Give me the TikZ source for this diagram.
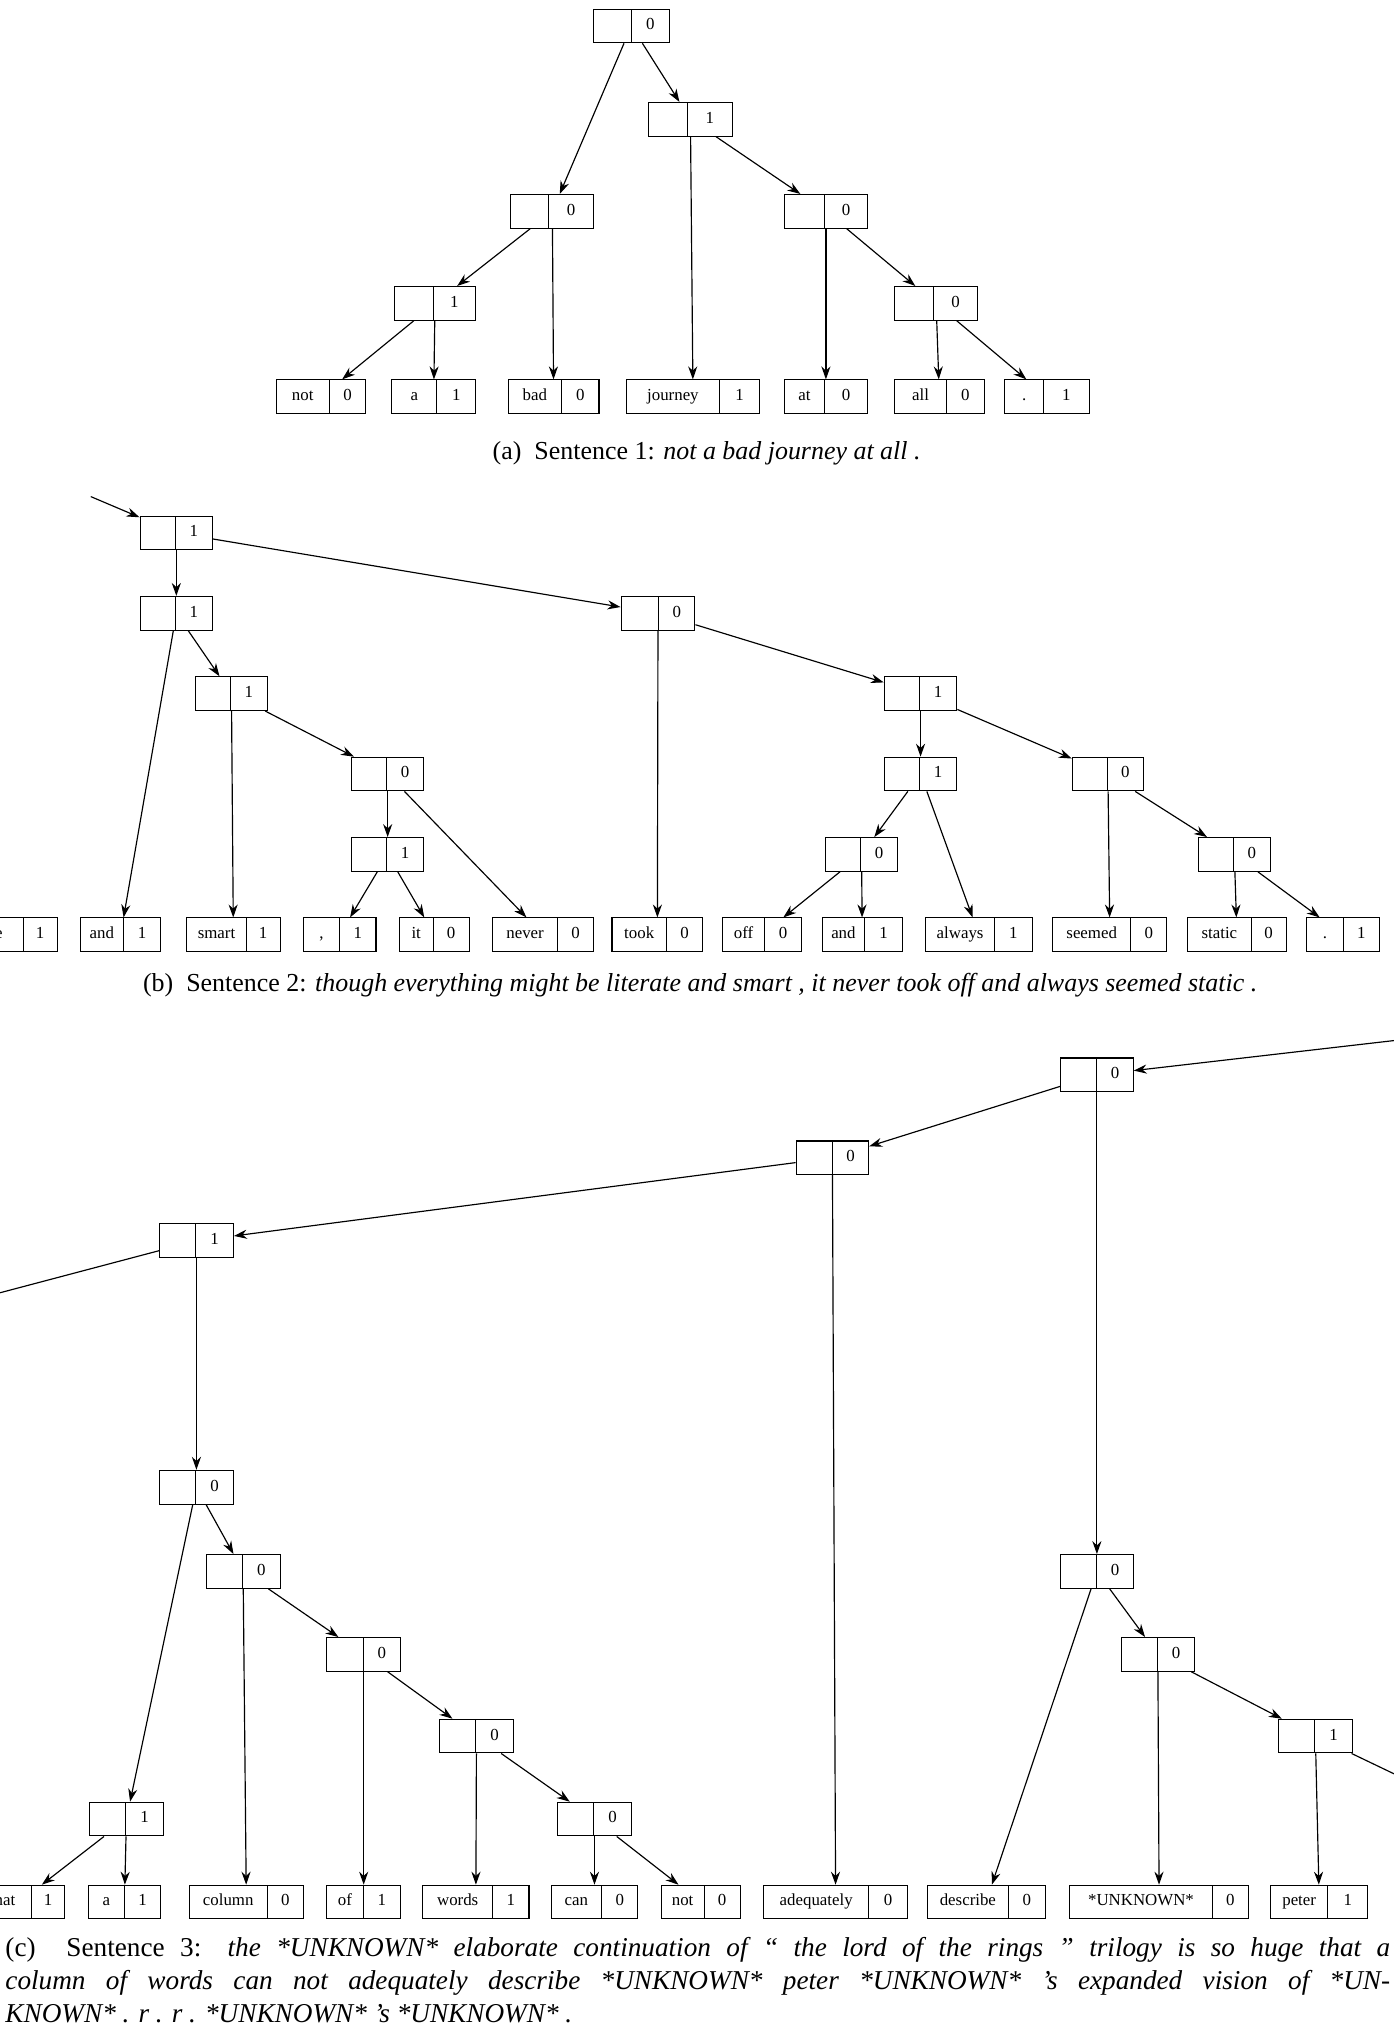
\documentclass[tikz,border=0pt]{standalone}
\usepackage{fontspec}
\setmainfont{Liberation Serif}
\usetikzlibrary{arrows.meta}
\tikzset{
  box/.style={draw, line width=0.8pt, minimum height=26pt, inner sep=0pt},
  edge/.style={draw, line width=0.9pt, -{Stealth[length=10pt,width=7pt]}},
  lbl/.style={font=\fontsize{13}{13}\selectfont, inner sep=0pt, text height=9pt, text depth=3pt},
  captxt/.style={font=\fontsize{20}{25.5}\selectfont, inner sep=0pt},
  captxtc/.style={font=\fontsize{21}{25.5}\selectfont, inner sep=0pt}
}
\newcommand\tn[7]{%
  \pgfmathsetmacro\cxx{(#2+#4)/2}\pgfmathsetmacro\ww{#4-#2}%
  \pgfmathsetmacro\la{(#2+#3)/2}\pgfmathsetmacro\ra{(#3+#4)/2}%
  \node[box, minimum width=\ww pt] (#1) at (\cxx,#5) {};
  \draw[line width=0.8pt] (#3,#5-13) -- (#3,#5+13);
  \node[lbl] at (\la,#5) {#6};
  \node[lbl] at (\ra,#5) {#7};
}
\begin{document}
\begin{tikzpicture}[x=1pt,y=-1pt]
\useasboundingbox (0,0) rectangle (1075,1568);
% (a)
\tn{r}{458}{487}{516}{20}{}{0}
\tn{n1}{500}{530}{565}{92}{}{1}
\tn{n2}{394}{423}{458}{163}{}{0}
\tn{n3}{605}{636}{669}{163}{}{0}
\tn{n4}{304}{334}{367}{234}{}{1}
\tn{n5}{690}{720}{754}{234}{}{0}
\tn{la1}{213}{254}{282}{306}{not}{0}
\tn{la2}{302}{337}{367}{306}{a}{1}
\tn{la3}{392}{433}{462}{306}{bad}{0}
\tn{la4}{483}{555}{586}{306}{journey}{1}
\tn{la5}{605}{636}{669}{306}{at}{0}
\tn{la6}{690}{730}{759}{306}{all}{0}
\tn{la7}{775}{805}{840}{306}{.}{1}
\foreach \a/\b in {r/n2,r/n1,n1/la4,n1/n3,n2/n4,n2/la3,n4/la1,n4/la2,n3/la5,n3/n5,n5/la6,n5/la7}
  \path[edge] (\a) -- (\b);
\node[captxt] (capa) at (545,350) {(a)\ \ Sentence 1: \textit{not a bad journey at all .}};
% (b)
\tn{b1}{108}{135}{164}{411}{}{1}
\tn{b2}{108}{135}{164}{473}{}{1}
\tn{b3}{479}{508}{536}{473}{}{0}
\tn{b4}{151}{178}{206}{535}{}{1}
\tn{b5}{682}{709}{738}{535}{}{1}
\tn{b6}{271}{298}{327}{597}{}{0}
\tn{b7}{682}{709}{738}{597}{}{1}
\tn{b8}{827}{854}{882}{597}{}{0}
\tn{b9}{271}{298}{327}{659}{}{1}
\tn{b10}{637}{664}{692}{659}{}{0}
\tn{b11}{924}{951}{980}{659}{}{0}
\tn{lb0}{-50}{18}{44}{721}{literate}{1}
\tn{lb1}{62}{95}{124}{721}{and}{1}
\tn{lb2}{144}{190}{216}{721}{smart}{1}
\tn{lb3}{234}{262}{290}{721}{,}{1}
\tn{lb4}{308}{334}{362}{721}{it}{0}
\tn{lb5}{380}{430}{458}{721}{never}{0}
\tn{lb6}{472}{514}{542}{721}{took}{0}
\tn{lb7}{557}{590}{618}{721}{off}{0}
\tn{lb8}{634}{667}{696}{721}{and}{1}
\tn{lb9}{714}{767}{796}{721}{always}{1}
\tn{lb10}{812}{872}{900}{721}{seemed}{0}
\tn{lb11}{916}{965}{992}{721}{static}{0}
\tn{lb12}{1008}{1036}{1064}{721}{.}{1}
\coordinate (bin) at (70,383);
\path[edge] (bin) -- (b1);
\foreach \a/\b in {b1/b2,b1/b3,b2/lb1,b2/b4,b4/lb2,b4/b6,b6/b9,b6/lb5,b9/lb3,b9/lb4,b3/lb6,b3/b5,b5/b7,b5/b8,b7/b10,b7/lb9,b10/lb7,b10/lb8,b8/lb10,b8/b11,b11/lb11,b11/lb12}
  \path[edge] (\a) -- (\b);
\node[captxt] (capb) at (540,760) {(b)\ \ Sentence 2: \textit{though everything might be literate and smart , it never took off and always seemed static .}};
% (c)
\tn{c1}{818}{846}{874}{829}{}{0}
\tn{c2}{614}{642}{670}{893}{}{0}
\tn{c3}{123}{151}{180}{957}{}{1}
\tn{c4}{123}{151}{180}{1147}{}{0}
\tn{c5}{159}{187}{216}{1212}{}{0}
\tn{c6}{252}{280}{309}{1276}{}{0}
\tn{c7}{339}{367}{396}{1339}{}{0}
\tn{c8}{430}{458}{487}{1403}{}{0}
\tn{c9}{69}{97}{126}{1403}{}{1}
\tn{c11}{818}{846}{874}{1212}{}{0}
\tn{c12}{865}{893}{921}{1276}{}{0}
\tn{c10}{986}{1014}{1043}{1339}{}{1}
\tn{lc0}{-20}{24}{50}{1467}{that}{1}
\tn{lc1}{68}{96}{124}{1467}{a}{1}
\tn{lc2}{146}{206}{234}{1467}{column}{0}
\tn{lc3}{252}{280}{309}{1467}{of}{1}
\tn{lc4}{326}{380}{408}{1467}{words}{1}
\tn{lc5}{425}{464}{492}{1467}{can}{0}
\tn{lc6}{510}{543}{571}{1467}{not}{0}
\tn{lc7}{589}{670}{700}{1467}{adequately}{0}
\tn{lc8}{715}{778}{806}{1467}{describe}{0}
\tn{lc9}{825}{935}{963}{1467}{*UNKNOWN*}{0}
\tn{lc10}{980}{1024}{1055}{1467}{peter}{1}
\coordinate (cin) at (1080,802);
\coordinate (cl) at (-30,1005);
\coordinate (cr) at (1100,1380);
\path[edge] (cin) -- (c1);
\foreach \a/\b in {c1/c2,c1/c11,c2/c3,c2/lc7,c3/c4,c3/cl,c4/c9,c4/c5,c9/lc0,c9/lc1,c5/lc2,c5/c6,c6/lc3,c6/c7,c7/lc4,c7/c8,c8/lc5,c8/lc6,c11/lc8,c11/c12,c12/lc9,c12/c10,c10/lc10,c10/cr}
  \path[edge] (\a) -- (\b);
\node[captxtc, anchor=north west, align=left] (capc) at (4,1494) {%
\makebox[1068pt][s]{(c)\ \ Sentence 3: \textit{the *UNKNOWN* elaborate continuation of “ the lord of the rings ” trilogy is so huge that a}}\\
\makebox[1068pt][s]{\textit{column of words can not adequately describe *UNKNOWN* peter *UNKNOWN* 's expanded vision of *UN-}}\\
\textit{KNOWN* . r . r . *UNKNOWN* 's *UNKNOWN* .}};
\end{tikzpicture}
\end{document}
